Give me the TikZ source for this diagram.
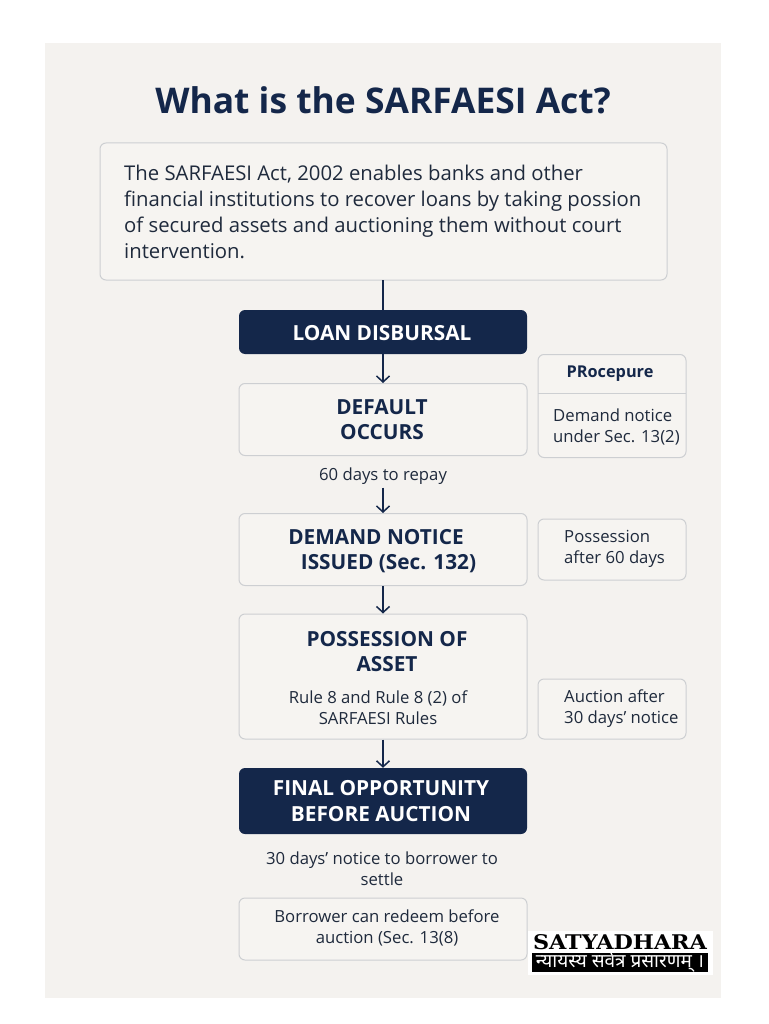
\documentclass[tikz,border=0pt]{standalone}
\usepackage{graphicx}
\usepackage{fontspec}
\setmainfont{Open Sans}
\newfontfamily\logoserif{DejaVu Serif}
\newfontfamily\devafont[Script=Devanagari]{Noto Sans}
\definecolor{navy}{HTML}{14274A}
\definecolor{panel}{HTML}{F4F2EF}
\definecolor{boxline}{HTML}{CDCFD2}
\definecolor{boxfill}{HTML}{F6F4F1}
\definecolor{ink}{HTML}{1F2A3C}
\usetikzlibrary{arrows.meta}
\tikzset{
 x=1pt,y=-1pt,
 lightbox/.style={draw=boxline,fill=boxfill,line width=1pt,rounded corners=6pt,inner sep=0pt},
 darkbox/.style={fill=navy,rounded corners=6pt,inner sep=0pt},
 heading/.style={font=\fontsize{20.8}{25}\selectfont\bfseries,text=navy,align=center,inner sep=0pt},
 darkhead/.style={font=\fontsize{20.8}{26}\selectfont\bfseries,text=white,align=center,inner sep=0pt},
 small/.style={font=\fontsize{16.7}{21}\selectfont,text=ink,align=center,inner sep=0pt},
 sidetext/.style={small,align=left,anchor=west},
 flow/.style={draw=navy,line width=1.5pt},
 arrow/.style={flow,-{Straight Barb[length=6pt,width=13pt,line width=1.5pt]}},
}
\begin{document}
\begin{tikzpicture}
\useasboundingbox (0,0) rectangle (768,1024);
\fill[white] (0,0) rectangle (768,1024);
\fill[panel] (45,43) rectangle (721,998);
\node[font=\fontsize{35.4}{40}\selectfont\bfseries,text=navy,inner sep=0pt] (title) at (383,100) {What is the SARFAESI Act?};
% intro
\path[lightbox] (100,143) rectangle (667,280);
\coordinate (introS) at (383,280);
\node[anchor=north west,inner sep=0pt,align=left,font=\fontsize{20.3}{26}\selectfont,text=ink] (intro) at (124,164.5) {The SARFAESI Act, 2002 enables banks and other\\financial institutions to recover loans by taking possion\\of secured assets and auctioning them without court\\intervention.};
% boxes
\node[darkbox,minimum width=288pt,minimum height=44pt] (loan) at (383,332) {};
\node[darkhead] at (382,333) {LOAN DISBURSAL};
\node[lightbox,minimum width=288pt,minimum height=72pt] (default) at (383,419.5) {};
\node[heading] at (382,420) {DEFAULT\\OCCURS};
\node[small] (sixty) at (383,476) {60 days to repay};
\node[lightbox,minimum width=288pt,minimum height=72pt] (demand) at (383,549.5) {};
\node[heading] at (376,551) {DEMAND NOTICE\\\hspace*{25pt}ISSUED (Sec. 132)};
\node[lightbox,minimum width=288pt,minimum height=125pt] (poss) at (383,676.5) {};
\node[heading] at (387,652) {POSSESSION OF\\ASSET};
\node[small] at (378,708) {Rule 8 and Rule 8 (2) of\\SARFAESI Rules};
\node[darkbox,minimum width=288pt,minimum height=66pt] (final) at (383,801) {};
\node[darkhead] at (381,801) {FINAL OPPORTUNITY\\BEFORE AUCTION};
\node[small] at (382,869) {30 days' notice to borrower to\\settle};
\node[lightbox,minimum width=288pt,minimum height=62pt] (redeem) at (383,929) {};
\node[small] at (387,928) {Borrower can redeem before\\auction (Sec. 13(8)};
% side
\node[lightbox,minimum width=148pt,minimum height=103pt] (proc) at (612,406) {};
\draw[boxline,line width=1pt] (538,393) -- (686,393);
\node[font=\fontsize{16.3}{18}\selectfont\bfseries,text=navy,inner sep=0pt] at (610,374) {PRocepure};
\node[sidetext] at (553,427) {Demand notice\\under Sec. 13(2)};
\node[lightbox,minimum width=148pt,minimum height=61pt] (side2) at (612,549.5) {};
\node[sidetext] at (564,549) {Possession\\after 60 days};
\node[lightbox,minimum width=148pt,minimum height=60pt] (side3) at (612,709) {};
\node[sidetext] at (564,709) {Auction after\\30 days' notice};
% connectors
\draw[flow] (introS) -- (introS |- loan.north);
\draw[arrow] (loan.south) -- (default.north);
\draw[arrow] (sixty.south) ++(0,3) -- (demand.north);
\draw[arrow] (demand.south) -- (poss.north);
\draw[arrow] (poss.south) -- (final.north);
% logo
\fill[white] (528,931) rectangle (713,975);
\fill[black] (532,953) rectangle (708,972);
\node[font=\logoserif\bfseries,text=black,inner sep=0pt] (logo) at (620,942) {\resizebox{174pt}{15pt}{SATYADHARA}};
\node[font=\devafont\fontsize{19}{20}\selectfont\bfseries,text=white,inner sep=0pt] (motto) at (620,961.5) {न्यायस्य सर्वत्र प्रसारणम् ।};
\end{tikzpicture}
\end{document}
